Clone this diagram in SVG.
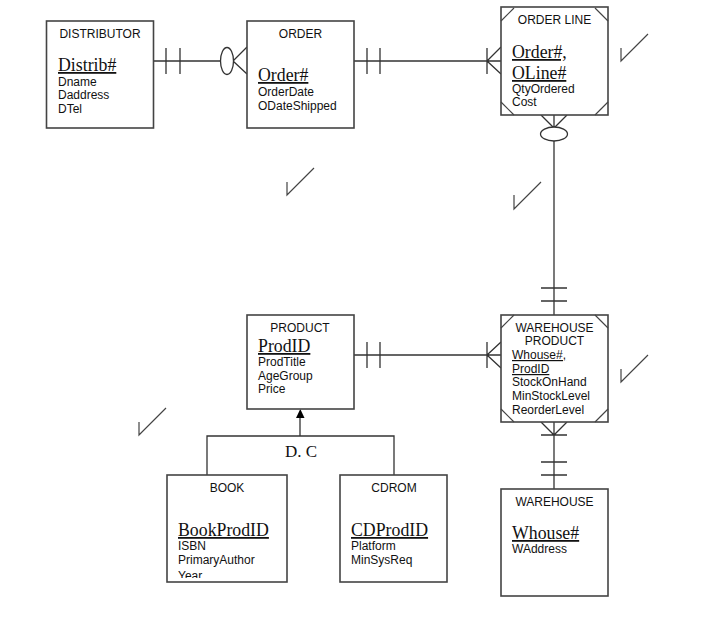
<svg xmlns="http://www.w3.org/2000/svg" width="716" height="621" viewBox="0 0 716 621">
<style>
.b{fill:#fff;stroke:#444;stroke-width:1.6}
.l{fill:none;stroke:#333;stroke-width:1.3}
.c{fill:none;stroke:#444;stroke-width:1.2}
text{fill:#111}
.s{font:12px "Liberation Sans",Arial,sans-serif}
.m{text-anchor:middle}
.k{font:17.800px "Liberation Serif","Times New Roman",serif;text-decoration:underline;text-decoration-color:#666}
.k2{font:12px "Liberation Sans",Arial,sans-serif;text-decoration:underline;text-decoration-color:#666}
.d{font:17px "Liberation Serif","Times New Roman",serif}
</style>
<defs><clipPath id="yc"><rect x="170" y="566" width="100" height="12"/></clipPath></defs>
<g id="connectors">
<path class="l" d="M154 61H234M166 48V74M180 48V74M233 61L247 47M233 61L247 74"/>
<ellipse class="l" cx="227" cy="61" rx="6.500" ry="13.500" style="fill:#fff"/>
<path class="l" d="M354 61H501M367 48V74M380 48V74M487 61L501 47M487 61L501 74M487 48V74"/>
<path class="l" d="M554 115V315M541 115L554 128L567 115M541 288H567M541 301H567"/>
<ellipse class="l" cx="554" cy="134" rx="13.500" ry="7" style="fill:#fff"/>
<path class="l" d="M354 355H501M367 342V368M380 342V368M487 355L501 342M487 355L501 368M487 342V368"/>
<path class="l" d="M554 422V489M541 422L554 435L567 422M541 435H567M541 462H567M541 475H567"/>
<path class="l" d="M300 436V416M207 475V436H394V475"/>
<path d="M300.300 409L296 418H304.500Z" fill="#000"/>
<text class="d" x="285" y="457">D. C</text>
</g>
<g id="distributor">
<rect class="b" x="46.500" y="21" width="107" height="107"/>
<text class="s m" x="100" y="38">DISTRIBUTOR</text>
<text class="k" x="58" y="71">Distrib#</text>
<text class="s" x="58" y="86">Dname</text>
<text class="s" x="58" y="99">Daddress</text>
<text class="s" x="58" y="113">DTel</text>
</g>
<g id="order">
<rect class="b" x="247" y="21" width="107" height="107"/>
<text class="s m" x="300.500" y="38">ORDER</text>
<text class="k" x="258" y="81">Order#</text>
<text class="s" x="258" y="96">OrderDate</text>
<text class="s" x="258" y="110">ODateShipped</text>
</g>
<g id="order-line">
<rect class="b" x="501" y="7" width="107" height="108"/>
<path class="c" d="M501 21L514 8M595 8L608 21M501 102L514 115M595 115L608 102"/>
<text class="s m" x="554.500" y="24">ORDER LINE</text>
<text class="k" x="512" y="58">Order#,</text>
<text class="k" x="512" y="79">OLine#</text>
<text class="s" x="512" y="93">QtyOrdered</text>
<text class="s" x="512" y="106">Cost</text>
</g>
<g id="product">
<rect class="b" x="247" y="315" width="107" height="94"/>
<text class="s m" x="300" y="332">PRODUCT</text>
<text class="k" x="258" y="352">ProdID</text>
<text class="s" x="258" y="366">ProdTitle</text>
<text class="s" x="258" y="380">AgeGroup</text>
<text class="s" x="258" y="393">Price</text>
</g>
<g id="warehouse-product">
<rect class="b" x="501" y="315" width="107" height="107"/>
<path class="c" d="M501 328L514 315M595 315L608 328M501 409L514 422M595 422L608 409"/>
<text class="s m" x="554.500" y="332">WAREHOUSE</text>
<text class="s m" x="554.500" y="345">PRODUCT</text>
<text class="k2" x="512" y="359">Whouse#,</text>
<text class="k2" x="512" y="373">ProdID</text>
<text class="s" x="512" y="386">StockOnHand</text>
<text class="s" x="512" y="400">MinStockLevel</text>
<text class="s" x="512" y="414">ReorderLevel</text>
</g>
<g id="book">
<rect class="b" x="167" y="475" width="120" height="107"/>
<text class="s m" x="227" y="492">BOOK</text>
<text class="k" x="178" y="536">BookProdID</text>
<text class="s" x="178" y="550">ISBN</text>
<text class="s" x="178" y="564">PrimaryAuthor</text>
<text class="s" x="178" y="579.500" clip-path="url(#yc)">Year</text>
</g>
<g id="cdrom">
<rect class="b" x="340" y="475" width="107" height="107"/>
<text class="s m" x="394" y="492">CDROM</text>
<text class="k" x="351" y="536">CDProdID</text>
<text class="s" x="351" y="550">Platform</text>
<text class="s" x="351" y="564">MinSysReq</text>
</g>
<g id="warehouse">
<rect class="b" x="501" y="489" width="107" height="107"/>
<text class="s m" x="554.500" y="506">WAREHOUSE</text>
<text class="k" x="512" y="539">Whouse#</text>
<text class="s" x="512" y="553">WAddress</text>
</g>
<g id="ticks">
<path class="c" d="M621 48V61L648 34M514 195V209L541 182M287 182V195L314 168M139 422V435L166 408M621 369V382L648 355"/>
</g>
</svg>
